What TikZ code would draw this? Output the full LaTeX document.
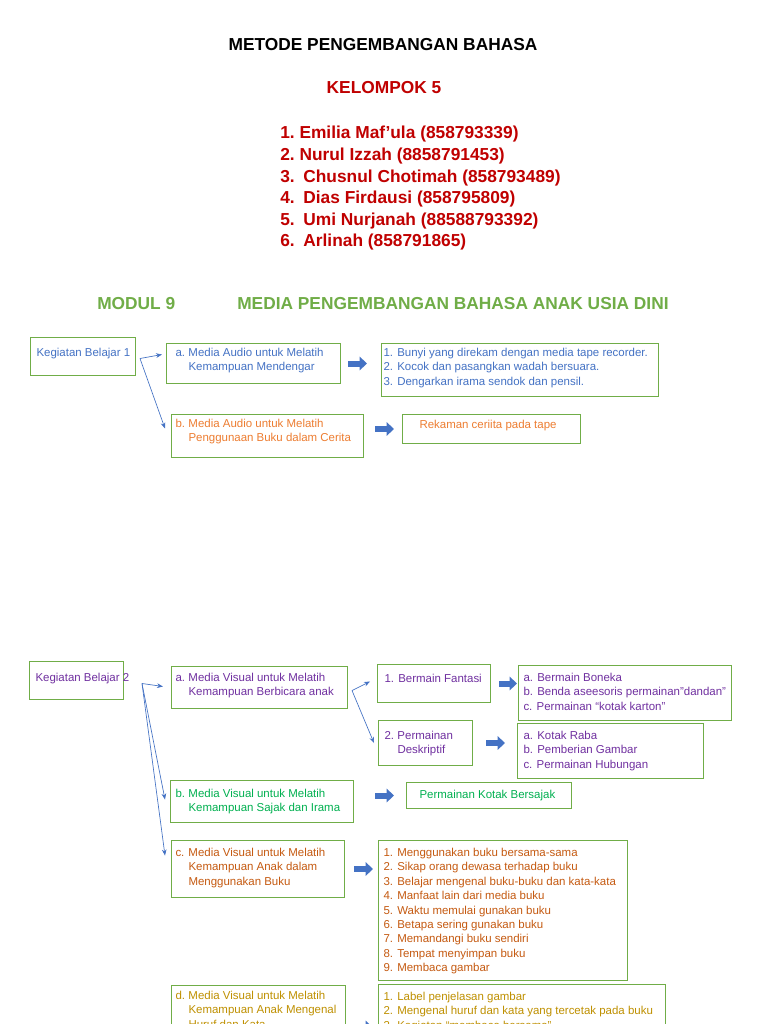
\documentclass[tikz,border=0pt]{standalone}
\usepackage{fontspec}
\setmainfont{Liberation Sans}
\usetikzlibrary{arrows.meta,calc}

\newlength{\pxu}\setlength{\pxu}{0.75pt}
\newcommand{\boxfont}{\fontsize{8.6}{10.8}\selectfont}
\newcommand{\headfont}{\fontsize{13}{16.2}\selectfont\bfseries}
% box text: width, height, left pad, top pad, text (all in px)
\newcommand{\bxt}[5]{\parbox[t][#2\pxu][t]{#1\pxu}{\vspace*{#4\pxu}\raggedright\leftskip=#3\pxu\strut#5}}
\newcommand{\itemlab}[2]{\let\\\newline\hangindent=13\pxu\hangafter=1\makebox[13\pxu][l]{#1}#2}

\begin{document}
\begin{tikzpicture}[x=0.75pt, y=-0.75pt,
    box/.style={draw=boxgreen, line width=0.75pt, anchor=north west, inner sep=0pt, font=\boxfont},
    head/.style={font=\headfont, inner sep=0pt},
    pointer/.style={draw=linkblue, line width=0.5pt, -{Stealth[length=4.5pt,width=3.5pt]}},
    fatarrow/.style={draw=arrowblue, line width=4.5pt, -{Triangle[length=5.5pt,width=10pt]}}]
    \definecolor{boxgreen}{RGB}{112,173,71}
    \definecolor{linkblue}{RGB}{68,114,196}
    \definecolor{arrowblue}{RGB}{68,114,196}
    \definecolor{txtblue}{RGB}{68,114,196}
    \definecolor{txtorange}{RGB}{237,125,49}
    \definecolor{txtbrown}{RGB}{197,90,17}
    \definecolor{txtgold}{RGB}{191,144,0}
    \definecolor{txtpurple}{RGB}{112,48,160}
    \definecolor{txtgreen}{RGB}{0,176,80}
    \definecolor{headred}{RGB}{192,0,0}
    \definecolor{headgreen}{RGB}{112,173,71}

    \fill[white] (0,0) rectangle (768,1024);
    \clip (0,0) rectangle (768,1024);

    % Heading
    \node[head, text=black] (title) at (383,45) {METODE PENGEMBANGAN BAHASA};
    \node[head, text=headred] (kelompok) at (384,88) {KELOMPOK 5};
    \node[head, text=headred, anchor=north west, align=left] (names) at (280,126) {%
        1.~Emilia Maf’ula (858793339)\\
        2.~Nurul Izzah (8858791453)\\
        3.\hspace{0.5em}Chusnul Chotimah (858793489)\\
        4.\hspace{0.5em}Dias Firdausi (858795809)\\
        5.\hspace{0.5em}Umi Nurjanah (88588793392)\\
        6.\hspace{0.5em}Arlinah (858791865)};
    \node[head, text=headgreen, anchor=west] (modul) at (97,304) {MODUL 9};
    \node[head, text=headgreen, anchor=west] (judul) at (237,304) {MEDIA PENGEMBANGAN BAHASA ANAK USIA DINI};

    % Kegiatan Belajar 1
    \node[box, text=txtblue] (kb1) at (30,337) {\bxt{105}{38}{6}{9}{Kegiatan Belajar 1}};
    \node[box, text=txtblue] (a1) at (166,343) {\bxt{174}{40}{9}{3}{\itemlab{a.}{Media Audio untuk Melatih\\Kemampuan Mendengar}}};
    \node[box, text=txtblue] (list1) at (381,343) {\bxt{277}{53}{2}{3}{1. Bunyi yang direkam dengan media tape recorder.\\2. Kocok dan pasangkan wadah bersuara.\\3. Dengarkan irama sendok dan pensil.}};
    \node[box, text=txtorange] (b1) at (171,414) {\bxt{192}{43}{4}{3}{\itemlab{b.}{Media Audio untuk Melatih\\Penggunaan Buku dalam Cerita}}};
    \node[box, text=txtorange] (tape1) at (402,414) {\bxt{178}{29}{17}{4}{Rekaman ceriita pada tape}};

    \coordinate (kb1s) at ($(kb1.east)+(4,2)$);
    \draw[pointer] (kb1s) -- ($(a1.west)+(-4,-9)$);
    \draw[pointer] (kb1s) -- ($(b1.west)+(-6,-7.5)$);
    \draw[fatarrow, shorten <=5.25pt, shorten >=10.5pt] (a1.east) -- (a1.east -| list1.west);
    \draw[fatarrow, shorten <=8.25pt, shorten >=6pt] (tape1.west -| b1.east) -- (tape1.west);

    % Kegiatan Belajar 2
    \node[box, text=txtpurple] (kb2) at (29,661) {\bxt{94}{38}{6}{10}{\makebox[0pt][l]{Kegiatan Belajar 2}}};
    \node[box, text=txtpurple] (a2) at (171,666) {\bxt{176}{42}{4}{5}{\itemlab{a.}{Media Visual untuk Melatih\\Kemampuan Berbicara anak}}};
    \node[box, text=txtpurple] (fant) at (377,664) {\bxt{113}{38}{7}{8}{1. Bermain Fantasi}};
    \node[box, text=txtpurple] (fantlist) at (518,665) {\bxt{213}{55}{5}{6}{a. Bermain Boneka\\b. Benda aseesoris permainan"dandan"\\c. Permainan “kotak karton”}};
    \node[box, text=txtpurple] (desk) at (378,720) {\bxt{94}{45}{6}{9}{\itemlab{2.}{Permainan\\Deskriptif}}};
    \node[box, text=txtpurple] (desklist) at (517,723) {\bxt{186}{55}{6}{6}{a. Kotak Raba\\b. Pemberian Gambar\\c. Permainan Hubungan}};
    \node[box, text=txtgreen] (b2) at (170,780) {\bxt{183}{42}{5}{7}{\itemlab{b.}{Media Visual untuk Melatih\\Kemampuan Sajak dan Irama}}};
    \node[box, text=txtgreen] (sajak) at (406,782) {\bxt{165}{26}{13}{6}{Permainan Kotak Bersajak}};
    \node[box, text=txtbrown] (c2) at (171,840) {\bxt{173}{57}{4}{6}{\itemlab{c.}{Media Visual untuk Melatih\\Kemampuan Anak dalam\\Menggunakan Buku}}};
    \node[box, text=txtbrown] (buku) at (378,840) {\bxt{249}{140}{5}{6}{1. Menggunakan buku bersama-sama\\2. Sikap orang dewasa terhadap buku\\3. Belajar mengenal buku-buku dan kata-kata\\4. Manfaat lain dari media buku\\5. Waktu memulai gunakan buku\\6. Betapa sering gunakan buku\\7. Memandangi buku sendiri\\8. Tempat menyimpan buku\\9. Membaca gambar}};
    \node[box, text=txtgold] (d2) at (171,985) {\bxt{174}{84}{4}{4}{\itemlab{d.}{Media Visual untuk Melatih\\Kemampuan Anak Mengenal\\Huruf dan Kata}}};
    \node[box, text=txtgold] (huruf) at (378,984) {\bxt{287}{84}{5}{6}{1. Label penjelasan gambar\\2. Mengenal huruf dan kata yang tercetak pada buku\\3. Kegiatan “membaca bersama”}};

    \coordinate (kb2s) at ($(kb2.east)+(18,3)$);
    \draw[pointer] (kb2s) -- ($(a2.west)+(-8,-1)$);
    \draw[pointer] (kb2s) -- ($(b2.west)+(-5,-2)$);
    \draw[pointer] (kb2s) -- ($(c2.west)+(-6,-13.5)$);
    \coordinate (a2s) at ($(a2.east)+(4,3)$);
    \draw[pointer] (a2s) -- ($(fant.west)+(-7,-2)$);
    \draw[pointer] (a2s) -- ($(desk.west)+(-4,0)$);

    \draw[fatarrow, shorten <=6pt, shorten >=0.75pt] (fant.east) -- (fant.east -| fantlist.west);
    \draw[fatarrow, shorten <=9.75pt, shorten >=9pt] (desk.east) -- (desk.east -| desklist.west);
    \draw[fatarrow, shorten <=15.75pt, shorten >=9pt] (sajak.west -| b2.east) -- (sajak.west);
    \draw[fatarrow, shorten <=6.75pt, shorten >=3.75pt] (c2.east) -- (c2.east -| buku.west);
    \draw[fatarrow, shorten <=7.5pt, shorten >=3.75pt] (d2.east) -- (d2.east -| huruf.west);
\end{tikzpicture}
\end{document}
